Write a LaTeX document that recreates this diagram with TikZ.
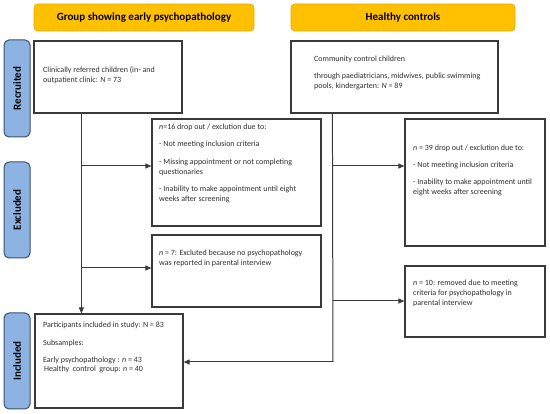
\documentclass[tikz,border=0pt]{standalone}
\usepackage{fontspec}
\setmainfont{Carlito}
\usetikzlibrary{arrows.meta,calc}
\definecolor{gold}{HTML}{FFC000}
\definecolor{goldline}{HTML}{E8AE00}
\definecolor{bluefill}{HTML}{8DB3E2}
\definecolor{blueline}{HTML}{3A5070}
\definecolor{boxline}{HTML}{3A3A3A}
\definecolor{txtgray}{HTML}{2E2E2E}
\tikzset{
  hdr/.style={draw=goldline, fill=gold, rounded corners=4pt, line width=0.8pt,
    font=\fontsize{11}{13}\selectfont\bfseries, inner sep=0pt},
  side/.style={draw=blueline, fill=bluefill, rounded corners=5pt, line width=1pt,
    font=\fontsize{11}{13}\selectfont\bfseries, rotate=90, inner sep=0pt,
    minimum width=96pt, minimum height=26pt},
  stagebox/.style={draw=boxline, line width=1.2pt, inner sep=0pt},
  txt/.style={anchor=north west, align=left, inner sep=0pt, text=txtgray,
    font=\fontsize{8}{9.8}\selectfont},
  arr/.style={draw=boxline, line width=1pt, -{Triangle[length=6pt,width=5pt]}},
  ln/.style={draw=boxline, line width=1pt}
}
\begin{document}
\begin{tikzpicture}[x=1pt,y=-1pt]
\useasboundingbox (0,0) rectangle (550,414);
% headers
\node[hdr, minimum width=220pt, minimum height=27pt] (hg) at (144,17.5) {Group showing early psychopathology};
\node[hdr, minimum width=224pt, minimum height=27pt] (hc) at (403,17.5) {Healthy controls};
% side labels
\node[side, minimum width=97pt] (rec) at (17,88.5) {Recruited};
\node[side] (exc) at (17,210) {Excluded};
\node[side] (inc) at (17,361) {Included};
% boxes
\node[stagebox, minimum width=148pt, minimum height=72pt] (clin) at (108,77) {};
\node[stagebox, minimum width=207pt, minimum height=72pt] (comm) at (394.5,77) {};
\node[stagebox, minimum width=169pt, minimum height=107pt] (d16) at (236.5,172.5) {};
\node[stagebox, minimum width=169pt, minimum height=72pt] (d7) at (236.5,271) {};
\node[stagebox, minimum width=140pt, minimum height=127pt] (d39) at (475,182.5) {};
\node[stagebox, minimum width=140pt, minimum height=71pt] (d10) at (475,301.5) {};
\node[stagebox, minimum width=148pt, minimum height=94pt] (incl) at (109,361) {};
% texts
\node[txt] (tclin) at (43,66.5) {Clinically referred children (in- and\\outpatient clinic: \textit{N} = 73};
\node[txt] (tcomm) at (314,55.5) {Community control children\\[7.3pt]through paediatricians, midwives, public swimming\\pools, kindergarten: \textit{N} = 89};
\node[txt] (td16) at (159,123.5) {\textit{n}=16 drop out / exclution due to:\\[7.8pt]- Not meeting inclusion criteria\\[7.8pt]- Missing appointment or not completing\\questionaries\\[7.8pt]- Inability to make appointment until eight\\weeks after screening};
\node[txt] (td7) at (159,250) {\textit{n} = 7: Excluted because no psychopathology\\was reported in parental interview};
\node[txt] (td39) at (413,145) {\textit{n} = 39 drop out / exclution due to:\\[7.3pt]- Not meeting inclusion criteria\\[7.3pt]- Inability to make appointment until\\eight weeks after screening};
\node[txt] (td10) at (413,280) {\textit{n} = 10: removed due to meeting\\criteria for psychopathology in\\parental interview};
\node[txt] (tincl) at (43,322) {Participants included in study: N = 83\\[7.8pt]Subsamples:\\[7.8pt]Early psychopathology : \textit{n} = 43\\[-1pt]\hspace{1pt}Healthy\ \ control\ \ group: \textit{n} = 40};
% left trunk
\coordinate (lt) at ($(clin.south west)+(48,0)$);
\draw[arr] (lt) -- (lt |- incl.north);
\coordinate (lb1) at (82,166);
\coordinate (lb2) at (82,268);
\draw[arr] (lb1) -- (lb1 -| d16.west);
\draw[arr] (lb2) -- (lb2 -| d7.west);
% right trunk
\coordinate (rt) at ($(comm.south west)+(42,0)$);
\coordinate (rc) at (333,362);
\draw[ln] (rt) -- (rc);
\draw[arr] (rc) -- (rc -| incl.east);
\coordinate (rb1) at (333,166);
\coordinate (rb2) at (333,301);
\draw[arr] (rb1) -- (rb1 -| d39.west);
\draw[arr] (rb2) -- (rb2 -| d10.west);
\end{tikzpicture}
\end{document}
